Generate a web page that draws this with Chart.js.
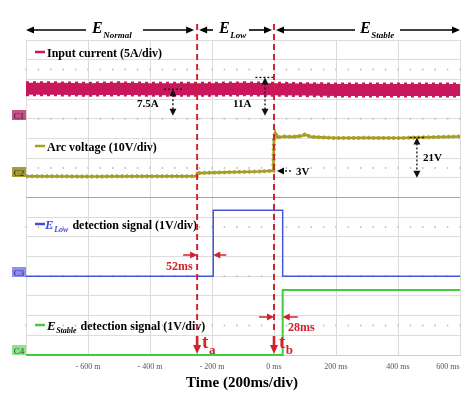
<!DOCTYPE html>
<html><head><meta charset="utf-8">
<script src="https://cdn.jsdelivr.net/npm/chart.js@4/dist/chart.umd.min.js"></script>
<style>html,body{margin:0;padding:0;background:#fff}#wrap{width:474px;height:395px}</style>
</head><body><div id="wrap"><canvas id="c" width="474" height="395"></canvas></div>
<script>
// ---- data (time in ms) ----
const timeTicks  = [-800, -600, -400, -200, 0, 200, 400, 600];
const tickLabels = ['', '- 600 m', '- 400 m', '- 200 m', '0 ms', '200 ms', '400 ms', '600 ms\u2003\u2003\u2003'];

const currentTime = [-800,-700,-600,-500,-400,-300,-200,-100,0,100,200,300,400,500,600];
const currentAmps = [7.6,7.6,7.5,7.6,7.5,7.5,7.5,7.6,7.5,7.4,7.3,7.3,7.3,7.3,7.3];

const arcTime  = [-800,-600,-400,-250,-248,-150,-50,-2,0,4,10,30,60,90,100,120,200,300,400,500,600];
const arcVolts = [0.8,0.7,0.8,0.8,2.4,2.8,3.2,3.6,20.2,23.0,20.5,21.0,20.8,21.3,22.0,20.8,20.2,20.3,20.2,20.6,21.0];

const lowTime  = [-800,-196,-196,28,28,600];
const lowVolts = [0,0,3.35,3.35,0,0];

const stableTime  = [-800,28,28,600];
const stableVolts = [0,0,3.3,3.3];

const eventNames = ['a','b'];
const eventTimes = [-248, 0];

// channel zero level (divisions from bottom) and units per division
const chOffset = [12, 9, 4, 0];
const chPerDiv = [5, 10, 1, 1];
// rows of minor graticule dots (divisions)
const dotRows = [14.5, 12, 9.5, 6.5, 4, 1.5];

const toPts = (t, v, ch) => t.map((x, i) => ({x, y: chOffset[ch] + v[i] / chPerDiv[ch]}));

const SERIF = '"Liberation Serif", "Times New Roman", serif';
const RED = '#d0232b';

function arrowHead(ctx, x, y, ang, len, w) {
  ctx.save(); ctx.translate(x, y); ctx.rotate(ang);
  ctx.beginPath(); ctx.moveTo(0, 0); ctx.lineTo(-len, -w / 2); ctx.lineTo(-len, w / 2); ctx.closePath(); ctx.fill();
  ctx.restore();
}
function arrow(ctx, x1, y1, x2, y2, color, lw, len, w, dash) {
  ctx.save();
  ctx.strokeStyle = color; ctx.fillStyle = color; ctx.lineWidth = lw;
  ctx.setLineDash(dash || []);
  const ang = Math.atan2(y2 - y1, x2 - x1);
  ctx.beginPath(); ctx.moveTo(x1, y1); ctx.lineTo(x2 - Math.cos(ang) * len * 0.8, y2 - Math.sin(ang) * len * 0.8); ctx.stroke();
  ctx.setLineDash([]);
  arrowHead(ctx, x2, y2, ang, len, w);
  ctx.restore();
}
function sub(ctx, x, y, main, s, size, subSize, color, italic) {
  ctx.fillStyle = color;
  ctx.font = (italic ? 'italic ' : '') + 'bold ' + size + 'px ' + SERIF;
  ctx.fillText(main, x, y);
  const w = ctx.measureText(main).width;
  ctx.font = (italic ? 'italic ' : '') + 'bold ' + subSize + 'px ' + SERIF;
  ctx.fillText(s, x + w + 0.5, y + size * 0.3);
  return x + w + 0.5 + ctx.measureText(s).width;
}
function measureArrow(ctx, x, yTop, yBot, capL, capR) {
  ctx.save();
  ctx.strokeStyle = '#111'; ctx.fillStyle = '#111'; ctx.lineWidth = 1.3;
  ctx.setLineDash([2, 2]);
  ctx.beginPath(); ctx.moveTo(capL, yTop); ctx.lineTo(capR, yTop); ctx.stroke();
  ctx.beginPath(); ctx.moveTo(x, yTop + 6); ctx.lineTo(x, yBot - 6); ctx.stroke();
  ctx.setLineDash([]);
  arrowHead(ctx, x, yTop, -Math.PI / 2, 7, 7);
  arrowHead(ctx, x, yBot, Math.PI / 2, 7, 7);
  ctx.restore();
}

const graticule = {
  id: 'graticule',
  beforeDatasetsDraw(chart) {
    const ctx = chart.ctx, xs = chart.scales.x, ys = chart.scales.y;
    ctx.save(); ctx.fillStyle = '#c6c6c6';
    dotRows.forEach(r => {
      const y = ys.getPixelForValue(r);
      for (let t = -800; t <= 600; t += 40) {
        ctx.fillRect(xs.getPixelForValue(t) - 0.75, y - 1, 1.5, 2);
      }
    });
    ctx.restore();
  }
};

const overlay = {
  id: 'overlay',
  afterDatasetsDraw(chart) {
    const ctx = chart.ctx;
    const xs = chart.scales.x, ys = chart.scales.y;
    const X = v => xs.getPixelForValue(v);
    const Y = v => ys.getPixelForValue(v);
    const ca = chart.chartArea;
    ctx.save();
    ctx.textBaseline = 'alphabetic';

    // channel markers
    const marks = [
      {t: 'C1', y: 115, bg: '#c4538a', fg: '#4a0a2a'},
      {t: 'C2', y: 172, bg: '#a39d3e', fg: '#2e2c05'},
      {t: 'C3', y: 272, bg: '#8f8ff0', fg: '#22228a'},
      {t: 'C4', y: 350, bg: '#90e090', fg: '#1c5a1c'}
    ];
    marks.forEach(m => {
      ctx.fillStyle = m.bg; ctx.fillRect(12, m.y - 5, 14, 10);
      ctx.fillStyle = m.fg; ctx.font = '9px ' + SERIF; ctx.textAlign = 'center';
      ctx.fillText(m.t, 19, m.y + 3.5);
    });
    ctx.textAlign = 'left';

    // legends
    const leg = (y, color) => { ctx.strokeStyle = color; ctx.lineWidth = 2.5; ctx.beginPath(); ctx.moveTo(35, y); ctx.lineTo(45, y); ctx.stroke(); };
    leg(52, '#c8175d');
    ctx.fillStyle = '#000'; ctx.font = 'bold 12px ' + SERIF;
    ctx.fillText('Input current (5A/div)', 47, 56.5);
    leg(146, '#a8a024');
    ctx.fillStyle = '#000'; ctx.font = 'bold 12px ' + SERIF;
    ctx.fillText('Arc voltage (10V/div)', 47, 150.5);
    leg(224, '#3f4fd6');
    let e = sub(ctx, 45, 228.5, 'E', 'Low', 13, 8, '#3f4fd6', true);
    ctx.fillStyle = '#000'; ctx.font = 'bold 12px ' + SERIF;
    ctx.fillText(' detection signal (1V/div)', e + 1, 228.5);
    leg(325, '#44cc44');
    e = sub(ctx, 47, 329.5, 'E', 'Stable', 13, 8, '#000', true);
    ctx.fillStyle = '#000'; ctx.font = 'bold 12px ' + SERIF;
    ctx.fillText(' detection signal (1V/div)', e + 1, 329.5);

    // phase arrows at top
    const ya = 30;
    const xa = X(eventTimes[0]), xb = X(eventTimes[1]);
    arrow(ctx, 86, ya, ca.left, ya, '#000', 1.6, 8, 7);
    arrow(ctx, 143, ya, xa - 3, ya, '#000', 1.6, 8, 7);
    sub(ctx, 92, 33, 'E', 'Normal', 16, 9, '#000', true);
    arrow(ctx, 213, ya, xa + 2, ya, '#000', 1.6, 8, 7);
    arrow(ctx, 249, ya, xb - 2, ya, '#000', 1.6, 8, 7);
    sub(ctx, 219, 33, 'E', 'Low', 16, 9, '#000', true);
    arrow(ctx, 355, ya, xb + 2, ya, '#000', 1.6, 8, 7);
    arrow(ctx, 400, ya, ca.right, ya, '#000', 1.6, 8, 7);
    sub(ctx, 360, 33, 'E', 'Stable', 16, 9, '#000', true);

    // measurement arrows
    measureArrow(ctx, X(-326), Y(chOffset[0] + 7.5 / chPerDiv[0]), Y(chOffset[0]) - 3, X(-355), X(-297));
    ctx.fillStyle = '#000'; ctx.font = 'bold 11px ' + SERIF;
    ctx.fillText('7.5A', 137, 107);
    measureArrow(ctx, X(-29), Y(chOffset[0] + 11 / chPerDiv[0]) + 2, Y(chOffset[0]) - 3, X(-60), X(2));
    ctx.fillText('11A', 233, 107);
    measureArrow(ctx, X(461), Y(chOffset[1] + 20.5 / chPerDiv[1]), Y(chOffset[1]), X(438), X(490));
    ctx.fillText('21V', 423, 161);
    ctx.save(); ctx.strokeStyle = '#000'; ctx.fillStyle = '#000';
    ctx.setLineDash([2, 2]); ctx.lineWidth = 1.3;
    ctx.beginPath(); ctx.moveTo(291, 171); ctx.lineTo(283, 171); ctx.stroke();
    ctx.setLineDash([]); arrowHead(ctx, 277, 171, Math.PI, 7, 7);
    ctx.restore();
    ctx.fillStyle = '#000'; ctx.fillText('3V', 296, 175);

    // red event lines
    eventTimes.forEach((t, i) => {
      const x = X(t);
      ctx.save(); ctx.strokeStyle = RED; ctx.fillStyle = RED; ctx.lineWidth = 2;
      ctx.setLineDash([6, 4]);
      ctx.beginPath(); ctx.moveTo(x, 24); ctx.lineTo(x, 334); ctx.stroke();
      ctx.setLineDash([]); ctx.lineWidth = 2.6;
      ctx.beginPath(); ctx.moveTo(x, 336); ctx.lineTo(x, 347); ctx.stroke();
      arrowHead(ctx, x, 354, Math.PI / 2, 9, 8);
      ctx.restore();
      sub(ctx, x + 5, 348, 't', eventNames[i], 19, 13, RED, false);
    });

    // delay annotations
    const xr = X(lowTime[1]);
    arrow(ctx, xa - 14, 255, xa, 255, RED, 1.5, 7, 7);
    arrow(ctx, xr + 13, 255, xr, 255, RED, 1.5, 7, 7);
    ctx.fillStyle = RED; ctx.font = 'bold 12px ' + SERIF;
    ctx.fillText('52ms', 166, 270);
    const xf = X(lowTime[3]);
    arrow(ctx, xb - 15, 317, xb, 317, RED, 1.5, 7, 7);
    arrow(ctx, xf + 15, 317, xf, 317, RED, 1.5, 7, 7);
    ctx.fillStyle = RED; ctx.font = 'bold 12px ' + SERIF;
    ctx.fillText('28ms', 288, 331);

    // axis title
    ctx.fillStyle = '#000'; ctx.font = 'bold 15px ' + SERIF; ctx.textAlign = 'center';
    ctx.fillText('Time (200ms/div)', 242, 387);
    ctx.restore();
  }
};

new Chart(document.getElementById('c'), {
  type: 'line',
  data: {
    datasets: [
      {data: toPts(stableTime, stableVolts, 3), borderColor: '#3fcd3f', borderWidth: 2},
      {data: toPts(lowTime, lowVolts, 2), borderColor: '#4656dc', borderWidth: 1.5},
      {data: toPts(arcTime, arcVolts, 1), borderColor: '#a59e22', borderWidth: 2.6},
      {data: toPts(arcTime, arcVolts, 1), borderColor: '#aba43a', borderWidth: 4, borderDash: [2, 3]},
      {data: toPts(currentTime, currentAmps, 0), borderColor: '#c8175d', borderWidth: 12},
      {data: toPts(currentTime, currentAmps, 0), borderColor: '#c8175d', borderWidth: 15, borderDash: [3, 4]}
    ]
  },
  options: {
    responsive: false, animation: false,
    layout: {padding: {left: 26, right: 14, top: 40, bottom: 0}},
    elements: {point: {radius: 0}, line: {tension: 0, borderCapStyle: 'butt'}},
    datasets: {line: {clip: 6}},
    plugins: {legend: {display: false}, tooltip: {enabled: false}},
    scales: {
      x: {
        type: 'linear', min: -800, max: 600,
        afterBuildTicks: s => { s.ticks = timeTicks.map(v => ({value: v})); },
        afterFit: s => { s.height = 40; s.paddingLeft = 0; s.paddingRight = 0; },
        ticks: {callback: v => tickLabels[timeTicks.indexOf(v)] ?? '', font: {family: 'Liberation Serif', size: 8}, color: '#555', padding: 7, maxRotation: 0, autoSkip: false},
        grid: {color: '#dcdcdc', drawTicks: false},
        border: {color: '#cfcfcf'}
      },
      y: {
        type: 'linear', min: 0, max: 16,
        afterFit: s => { s.width = 0; s.paddingTop = 0; s.paddingBottom = 0; },
        ticks: {display: false, stepSize: 1},
        grid: {color: c => c.tick.value === 8 ? '#a4a4a4' : '#dcdcdc', drawTicks: false},
        border: {display: false}
      }
    }
  },
  plugins: [graticule, overlay]
});
</script></body></html>
